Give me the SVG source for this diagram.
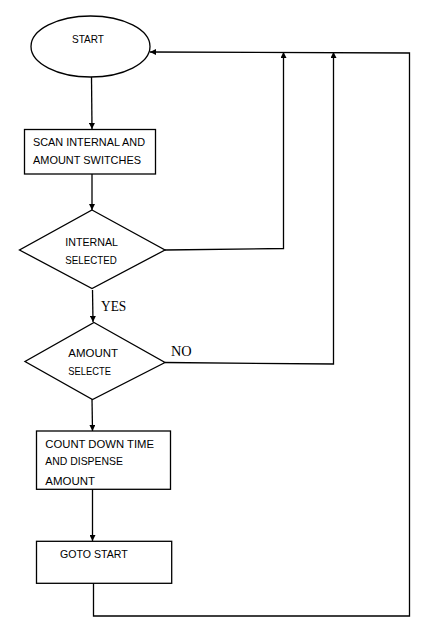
<svg xmlns="http://www.w3.org/2000/svg" width="442" height="636" viewBox="0 0 442 636">
<style>
.shape{fill:#fff;stroke:#000;stroke-width:1.3}
.ln{fill:none;stroke:#000;stroke-width:1.3}
.t{font-family:"Liberation Sans",Arial,sans-serif;font-size:11.6px;fill:#000}
.s{font-family:"Liberation Serif","Times New Roman",serif;font-size:14.5px;fill:#000}
</style>
<defs>
<marker id="ah" viewBox="0 0 10 10" refX="10" refY="5" markerWidth="6" markerHeight="6" markerUnits="userSpaceOnUse" orient="auto">
<path d="M0,0 L10,5 L0,10 Z" fill="#000"/>
</marker>
</defs>
<rect width="442" height="636" fill="#fff"/>
<g id="connectors">
<line class="ln" x1="91.5" y1="77" x2="92" y2="129" marker-end="url(#ah)"/>
<line class="ln" x1="92" y1="174" x2="92" y2="210" marker-end="url(#ah)"/>
<line class="ln" x1="92.5" y1="290" x2="93" y2="322" marker-end="url(#ah)"/>
<line class="ln" x1="92" y1="399" x2="92.5" y2="431" marker-end="url(#ah)"/>
<line class="ln" x1="92.5" y1="489" x2="92.5" y2="541" marker-end="url(#ah)"/>
<polyline class="ln" points="165,250 283.5,248.5 283.5,52" marker-end="url(#ah)"/>
<polyline class="ln" points="165,362.5 333.5,364 333.5,52" marker-end="url(#ah)"/>
<polyline class="ln" points="93.5,583 93.5,616 409.5,616 409.5,53 150,52" marker-end="url(#ah)"/>
</g>
<g id="start">
<ellipse class="shape" cx="90.5" cy="46.5" rx="59.5" ry="30.5"/>
<text class="t" x="72" y="43" textLength="32" lengthAdjust="spacingAndGlyphs">START</text>
</g>
<g id="scan">
<rect class="shape" x="24.5" y="129.5" width="131" height="44.5"/>
<text class="t" x="33" y="146" textLength="112" lengthAdjust="spacingAndGlyphs">SCAN INTERNAL AND</text>
<text class="t" x="33" y="164" textLength="108" lengthAdjust="spacingAndGlyphs">AMOUNT SWITCHES</text>
</g>
<g id="internal">
<polygon class="shape" points="92,210 165,250 92,288.5 19.5,250"/>
<text class="t" x="65.3" y="246" textLength="52.7" lengthAdjust="spacingAndGlyphs">INTERNAL</text>
<text class="t" x="65.3" y="264" textLength="51.5" lengthAdjust="spacingAndGlyphs">SELECTED</text>
</g>
<g id="amount">
<polygon class="shape" points="94,322.5 165,362.5 92.5,399.5 25,361.5"/>
<text class="t" x="68.3" y="357" textLength="49.7" lengthAdjust="spacingAndGlyphs">AMOUNT</text>
<text class="t" x="68.3" y="375" textLength="42.7" lengthAdjust="spacingAndGlyphs">SELECTE</text>
</g>
<g id="countdown">
<rect class="shape" x="36.5" y="431" width="134" height="58.3"/>
<text class="t" x="45.3" y="447.7" textLength="108.7" lengthAdjust="spacingAndGlyphs">COUNT DOWN TIME</text>
<text class="t" x="45.3" y="465.3" textLength="77.7" lengthAdjust="spacingAndGlyphs">AND DISPENSE</text>
<text class="t" x="45.3" y="484.7" textLength="49.7" lengthAdjust="spacingAndGlyphs">AMOUNT</text>
</g>
<g id="goto">
<rect class="shape" x="36.5" y="541.3" width="135.2" height="42"/>
<text class="t" x="60" y="558" textLength="67.7" lengthAdjust="spacingAndGlyphs">GOTO START</text>
</g>
<g id="labels">
<text class="s" x="101" y="311" textLength="25.3" lengthAdjust="spacingAndGlyphs">YES</text>
<text class="s" x="171" y="355.7" textLength="20.7" lengthAdjust="spacingAndGlyphs">NO</text>
</g>
</svg>
